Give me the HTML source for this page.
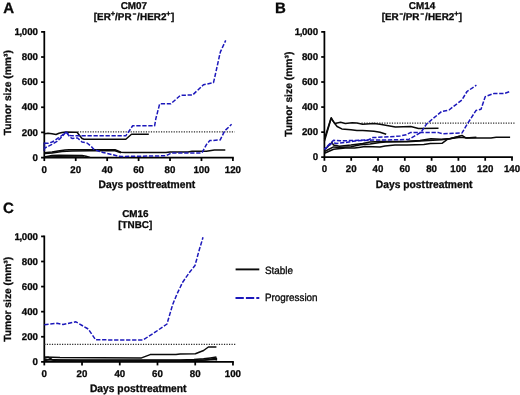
<!DOCTYPE html>
<html lang="en"><head><meta charset="utf-8"><title>Tumor size vs days posttreatment</title>
<style>
html,body{margin:0;padding:0;background:#fff}
svg{display:block;filter:blur(0.35px)}
text{font-family:"Liberation Sans",Arial,Helvetica,sans-serif;fill:#0a0a0a;text-rendering:geometricPrecision}
.pn,.tt,.tk,.at{font-weight:bold;stroke:#0a0a0a;stroke-width:0.3px}
.pn{font-size:15px}
.tt{font-size:9.9px}
.tk{font-size:9.7px}
.at{font-size:10.3px}
.lg{font-size:9.9px;stroke:#0a0a0a;stroke-width:0.32px}
.sp{font-size:7.4px;stroke-width:0.4px}
.sm{font-size:6px;stroke-width:0.55px}
</style></head><body>
<svg width="520" height="395" viewBox="0 0 520 395">
<rect width="520" height="395" fill="#fff"/>
<g id="panelA">
<text class="pn" x="3.2" y="12.7">A</text>
<text class="tt" text-anchor="middle" x="133.9" y="8.75">CM07</text>
<text class="tt" text-anchor="middle" x="134.0" y="20.2">[ER<tspan class="sp" dx="0.0" dy="-4.1">+</tspan><tspan dx="0.0" dy="4.1">/PR</tspan><tspan class="sm" dx="1.1" dy="-3.9">−</tspan><tspan dx="0.8500000000000001" dy="3.9">/</tspan><tspan dx="0.3">HER2</tspan><tspan class="sp" dx="-0.1" dy="-4.1">+</tspan><tspan dx="0.3" dy="4.1">]</tspan></text>
<g stroke="#000" stroke-width="1.75" fill="none">
<path d="M44.3 31.02 V161.05"/>
<path d="M41.099999999999994 157.5 H233.78"/>
<path d="M41.099999999999994 132.38 H44.3"/>
<path d="M41.099999999999994 107.26 H44.3"/>
<path d="M41.099999999999994 82.14 H44.3"/>
<path d="M41.099999999999994 57.02 H44.3"/>
<path d="M41.099999999999994 31.90 H44.3"/>
<path d="M75.73 157.5 V161.05"/>
<path d="M107.17 157.5 V161.05"/>
<path d="M138.60 157.5 V161.05"/>
<path d="M170.03 157.5 V161.05"/>
<path d="M201.47 157.5 V161.05"/>
<path d="M232.90 157.5 V161.05"/>
</g>
<g class="tk" text-anchor="end">
<text transform="translate(38.0 160.70) scale(1 1)">0</text>
<text transform="translate(38.0 135.58) scale(1 1)">200</text>
<text transform="translate(38.0 110.46) scale(1 1)">400</text>
<text transform="translate(38.0 85.34) scale(1 1)">600</text>
<text transform="translate(38.0 60.22) scale(1 1)">800</text>
<text transform="translate(38.0 35.10) scale(1 1)">1<tspan dx="-0.4">,</tspan><tspan dx="-0.4">000</tspan></text>
</g>
<g class="tk" text-anchor="middle">
<text transform="translate(44.3 172.80) scale(1 1)">0</text>
<text transform="translate(75.7 172.80) scale(1 1)">20</text>
<text transform="translate(107.2 172.80) scale(1 1)">40</text>
<text transform="translate(138.6 172.80) scale(1 1)">60</text>
<text transform="translate(170.0 172.80) scale(1 1)">80</text>
<text transform="translate(201.5 172.80) scale(1 1)">100</text>
<text transform="translate(232.9 172.80) scale(1 1)">120</text>
</g>
<text class="at" text-anchor="middle" transform="translate(146.8 187.80) scale(1 1.05)">Days post<tspan dx="0.5">treatment</tspan></text>
<text class="at" text-anchor="middle" transform="translate(11.4 92.7) rotate(-90)">Tumor size (mm³)</text>
<path d="M77.5 131.85 H234.7" stroke="#2b2b2b" stroke-width="1.2" stroke-dasharray="1.2 1.33" fill="none"/>
<polyline points="44.3,132.6 45.0,133.8 48.0,133.2 52.0,133.8 56.0,134.5 59.0,133.2 62.0,132.5 66.0,132.0 77.0,132.2 82.0,138.5 84.0,139.2 125.8,139.2 131.5,134.2 148.8,134.2" fill="none" stroke="#0a0a0a" stroke-width="1.5" stroke-linejoin="round"/>
<polyline points="44.3,152.7 52.0,152.1 58.0,151.0 65.0,149.9 69.0,149.7 115.0,149.7 121.0,152.2 125.0,152.6 166.0,152.5 170.0,151.9 188.0,151.9 192.0,151.2 206.4,151.3 214.4,150.0 225.3,150.0" fill="none" stroke="#0a0a0a" stroke-width="1.5" stroke-linejoin="round"/>
<polyline points="44.3,153.6 52.0,153.0 62.0,151.5 72.0,150.9 90.0,150.8 115.0,150.8 121.0,152.8" fill="none" stroke="#0a0a0a" stroke-width="1.5" stroke-linejoin="round"/>
<polyline points="44.3,156.9 52.0,155.4 59.0,155.2 82.0,155.4 86.0,156.3 90.0,157.4" fill="none" stroke="#0a0a0a" stroke-width="1.5" stroke-linejoin="round"/>
<polyline points="44.3,156.9 58.0,156.8 84.0,156.9" fill="none" stroke="#0a0a0a" stroke-width="1.5" stroke-linejoin="round"/>
<path d="M44.3 142.4 V151.2" stroke="#16136f" stroke-width="1.75" fill="none"/>
<path d="M44.3 143.3 L48.2 143.3 L48.6 143.2M50.2 142.6 L52.0 142.0 L54.1 140.8M55.5 139.9 L58.0 138.2 L59.0 137.5M60.4 136.5 L62.0 135.3 L63.8 133.8M65.1 132.7 L66.0 132.0 L68.4 134.1M69.6 135.2 L70.0 135.5 L73.8 135.7M75.5 135.8 L76.0 135.8 L79.8 135.8M81.5 135.8 L85.8 135.8M87.5 135.8 L91.8 135.8M93.5 135.8 L97.8 135.8M99.5 135.8 L103.8 135.8M105.5 135.8 L109.8 135.8M111.5 135.8 L115.8 135.8M117.5 135.8 L121.8 135.8M123.5 135.8 L125.8 135.8 L126.9 134.1M127.9 132.7 L130.4 129.2M131.3 127.8 L132.7 125.8 L134.6 125.8M136.3 125.8 L140.6 125.8M142.3 125.8 L146.6 125.8M148.3 125.8 L152.6 125.8M154.3 125.8 L154.6 125.8 L155.3 121.9M155.6 120.2 L155.8 118.9 L156.5 116.0M157.0 114.4 L158.0 110.2M158.5 108.6 L159.5 104.4M160.8 103.8 L165.1 103.8M166.8 103.8 L170.8 103.8 L171.0 103.6M172.3 102.5 L175.5 99.7M176.8 98.5 L180.0 95.7M181.6 95.3 L185.9 95.2M187.6 95.1 L191.9 95.0M193.3 94.4 L196.4 91.4M197.7 90.3 L200.8 87.3M202.0 86.1 L203.5 84.7 L205.7 84.2M207.4 83.9 L211.6 83.0M213.2 82.7 L213.5 82.6 L214.4 78.7M214.8 77.0 L215.7 72.8M216.1 71.2 L217.0 67.0M217.4 65.3 L218.3 61.1M218.7 59.4 L219.6 55.2M220.0 53.6 L220.4 51.9 L221.5 49.6M222.2 48.0 L224.0 44.1M224.7 42.6 L225.7 40.4" fill="none" stroke="#1c18bb" stroke-width="1.5" stroke-linejoin="round"/>
<path d="M44.3 148.2 L46.8 147.0M48.3 146.2 L48.6 146.1 L52.0 144.4 L52.2 144.3M53.6 143.4 L57.0 141.4 L57.3 141.1M58.5 140.0 L60.0 138.6 L61.6 137.0M62.8 135.8 L63.0 135.6 L65.6 132.5M66.7 132.8 L69.3 136.2M70.5 137.4 L72.0 138.5 L74.4 138.3M76.1 138.1 L77.5 138.0 L79.7 139.9M81.0 141.1 L82.0 142.0 L84.8 142.6M86.5 142.9 L87.0 143.0 L90.0 145.3M91.3 146.4 L94.0 149.5 L94.2 149.6M95.8 150.1 L99.9 151.5M101.5 152.0 L103.0 152.5 L105.6 153.1M107.3 153.5 L111.5 154.4M113.1 154.8 L114.0 155.0 L117.3 156.0M118.9 156.2 L122.0 156.4 L123.2 156.4M124.9 156.4 L129.2 156.3M130.9 156.3 L135.2 156.3M136.9 156.2 L141.2 156.2M142.9 156.2 L147.2 156.1M148.9 156.1 L150.0 156.1 L153.2 156.0M154.9 156.0 L159.2 155.9M160.9 155.8 L165.2 155.7M166.8 155.3 L170.6 153.3M172.2 152.9 L176.5 152.9M178.2 152.9 L182.5 152.9M184.2 152.9 L188.5 152.9M190.2 152.9 L194.5 152.9M196.2 152.9 L200.5 152.9M202.1 152.7 L204.1 148.9M204.9 147.4 L206.4 144.6 L207.1 143.7M208.2 142.4 L209.8 140.6 L211.7 140.5M213.4 140.4 L217.7 140.1M219.4 140.0 L220.2 139.9 L221.7 136.8M222.5 135.3 L224.4 131.4M225.5 130.1 L228.6 127.2M229.8 126.0 L231.6 124.3" fill="none" stroke="#1c18bb" stroke-width="1.5" stroke-linejoin="round"/>
</g>
<g id="panelB">
<text class="pn" x="274.9" y="12.7">B</text>
<text class="tt" text-anchor="middle" x="422" y="8.75">CM14</text>
<text class="tt" text-anchor="middle" x="421.9" y="20.2">[ER<tspan class="sm" dx="0.7" dy="-3.9">−</tspan><tspan dx="0.05" dy="3.9">/PR</tspan><tspan class="sm" dx="1.1" dy="-3.9">−</tspan><tspan dx="0.8500000000000001" dy="3.9">/</tspan><tspan dx="0.3">HER2</tspan><tspan class="sp" dx="-0.1" dy="-4.1">+</tspan><tspan dx="0.3" dy="4.1">]</tspan></text>
<g stroke="#000" stroke-width="1.75" fill="none">
<path d="M324.4 31.02 V160.75"/>
<path d="M321.2 157.2 H512.88"/>
<path d="M321.2 132.14 H324.4"/>
<path d="M321.2 107.08 H324.4"/>
<path d="M321.2 82.02 H324.4"/>
<path d="M321.2 56.96 H324.4"/>
<path d="M321.2 31.90 H324.4"/>
<path d="M351.20 157.2 V160.75"/>
<path d="M378.00 157.2 V160.75"/>
<path d="M404.80 157.2 V160.75"/>
<path d="M431.60 157.2 V160.75"/>
<path d="M458.40 157.2 V160.75"/>
<path d="M485.20 157.2 V160.75"/>
<path d="M512.00 157.2 V160.75"/>
</g>
<g class="tk" text-anchor="end">
<text transform="translate(318.1 160.40) scale(1 1)">0</text>
<text transform="translate(318.1 135.34) scale(1 1)">200</text>
<text transform="translate(318.1 110.28) scale(1 1)">400</text>
<text transform="translate(318.1 85.22) scale(1 1)">600</text>
<text transform="translate(318.1 60.16) scale(1 1)">800</text>
<text transform="translate(318.1 35.10) scale(1 1)">1<tspan dx="-0.4">,</tspan><tspan dx="-0.4">000</tspan></text>
</g>
<g class="tk" text-anchor="middle">
<text transform="translate(324.4 172.10) scale(1 1)">0</text>
<text transform="translate(351.2 172.10) scale(1 1)">20</text>
<text transform="translate(378.0 172.10) scale(1 1)">40</text>
<text transform="translate(404.8 172.10) scale(1 1)">60</text>
<text transform="translate(431.6 172.10) scale(1 1)">80</text>
<text transform="translate(458.4 172.10) scale(1 1)">100</text>
<text transform="translate(485.2 172.10) scale(1 1)">120</text>
<text transform="translate(512.0 172.10) scale(1 1)">140</text>
</g>
<text class="at" text-anchor="middle" transform="translate(424.1 187.90) scale(1 1.05)">Days post<tspan dx="0.5">treatment</tspan></text>
<text class="at" text-anchor="middle" transform="translate(291.7 94.2) rotate(-90)">Tumor size (mm³)</text>
<path d="M361.5 123.1 H514.8" stroke="#2b2b2b" stroke-width="1.2" stroke-dasharray="1.2 1.33" fill="none"/>
<polyline points="324.5,141.0 331.3,117.8 334.0,122.5 337.1,126.5 341.8,128.9 351.0,129.7 356.9,130.4 362.7,130.4 374.0,131.2 380.0,132.3 386.2,134.3" fill="none" stroke="#0a0a0a" stroke-width="1.5" stroke-linejoin="round"/>
<polyline points="324.5,138.7 331.0,118.2 333.0,121.0 334.8,123.4 340.6,122.2 345.3,123.4 352.2,122.7 356.9,123.0 362.7,124.2 374.0,123.6 380.0,124.2 395.4,126.9 410.8,126.6 418.5,128.5 438.5,128.2" fill="none" stroke="#0a0a0a" stroke-width="1.5" stroke-linejoin="round"/>
<polyline points="324.5,149.7 331.9,142.5 333.6,145.1 339.4,146.3 351.0,145.1 362.7,143.4 370.0,142.0 380.0,141.5 407.0,141.3 420.0,140.4 430.8,138.8 441.5,139.2 450.8,138.5 462.0,135.4 465.8,137.9 476.4,137.2" fill="none" stroke="#0a0a0a" stroke-width="1.5" stroke-linejoin="round"/>
<polyline points="324.5,151.5 333.6,146.9 339.4,147.5 351.0,146.7 360.4,144.8 370.0,144.0 380.0,142.5 386.0,141.9 407.0,141.7 420.0,140.9 441.5,139.8 460.7,137.2 467.6,137.9 491.0,137.9 496.2,137.2 510.1,137.2" fill="none" stroke="#0a0a0a" stroke-width="1.5" stroke-linejoin="round"/>
<polyline points="324.5,153.3 333.6,149.2 345.3,148.0 354.6,148.0 360.4,147.2 365.0,146.5 380.0,147.0 385.0,146.0 395.0,145.0 407.0,145.0 423.8,144.4 430.3,143.6 442.0,143.3 447.7,139.2 460.0,136.2" fill="none" stroke="#0a0a0a" stroke-width="1.5" stroke-linejoin="round"/>
<path d="M324.5 149.4 L327.8 146.7M329.1 145.6 L332.4 142.8M334.1 143.0 L337.0 143.4 L338.4 143.3M340.1 143.1 L344.3 142.6M346.0 142.4 L350.3 141.7M352.0 141.4 L355.0 140.9 L356.2 140.8M357.9 140.8 L362.2 140.6M363.9 140.5 L368.0 140.3 L368.2 140.3M369.9 140.2 L373.0 140.1 L374.2 140.1M375.9 140.1 L380.2 140.0M381.9 140.0 L386.2 139.9M387.9 139.9 L392.2 139.8M393.9 139.8 L398.2 139.7M399.9 139.7 L404.2 139.6M405.9 139.6 L407.0 139.6 L409.2 139.2 L410.0 138.7M411.5 137.9 L414.4 136.2 L415.2 135.7M416.7 134.8 L420.4 132.6M421.6 131.5 L424.0 127.9M424.9 126.5 L426.5 124.1 L427.6 123.2M428.9 122.1 L432.2 119.3M433.5 118.2 L436.8 115.5M438.1 114.4 L441.4 111.6M443.0 111.2 L447.2 110.4M448.9 110.0 L449.0 110.0 L452.3 107.4M453.6 106.4 L457.0 103.8M458.4 102.7 L461.8 100.1M462.7 98.7 L464.9 95.0M465.8 93.5 L467.0 91.5 L468.6 90.4M470.0 89.5 L473.6 87.1M475.0 86.1 L476.4 85.2" fill="none" stroke="#1c18bb" stroke-width="1.5" stroke-linejoin="round"/>
<path d="M324.5 149.2 L326.1 147.5M327.3 146.3 L329.0 144.5 L330.3 143.3M331.6 142.1 L333.6 140.3 L335.2 140.4M336.9 140.5 L340.2 140.8 L341.1 140.8M342.8 140.7 L347.1 140.7M348.8 140.6 L353.1 140.5M354.8 140.5 L355.0 140.5 L359.1 140.3M360.8 140.3 L365.1 140.1M366.8 140.0 L368.0 140.0 L370.8 138.6M372.3 137.8 L373.0 137.5 L376.5 137.4M378.2 137.3 L382.5 137.1M384.2 137.0 L385.0 137.0 L388.5 136.8M390.2 136.7 L394.5 136.4M396.2 136.3 L400.0 136.0 L400.5 135.9M402.2 135.6 L406.2 134.8 L406.4 134.7M407.9 133.9 L410.4 132.6 L411.8 132.6M413.5 132.6 L417.8 132.6M419.5 132.6 L423.8 132.6M425.5 132.6 L429.8 132.6M431.5 132.6 L435.8 132.6M437.5 132.6 L438.5 132.6 L441.7 133.5M443.4 133.8 L447.7 133.6M449.4 133.5 L453.7 133.3M455.4 133.2 L459.7 133.0M461.4 132.9 L462.0 132.9 L463.9 129.8M464.7 128.3 L466.9 124.6M467.9 123.2 L470.2 119.5M471.1 118.1 L473.4 114.5M474.3 113.1 L475.9 110.6 L477.2 110.3M478.9 109.8 L481.0 109.3 L481.7 107.3M482.2 105.7 L483.6 101.6M484.1 100.0 L485.3 96.6 L486.0 96.4M487.6 95.8 L491.6 94.3M493.2 93.8 L493.7 93.6 L497.5 93.6M499.2 93.6 L503.5 93.6M505.1 93.2 L509.2 91.8" fill="none" stroke="#1c18bb" stroke-width="1.5" stroke-linejoin="round"/>
</g>
<g id="panelC">
<text class="pn" x="3.0" y="213.1">C</text>
<text class="tt" text-anchor="middle" x="135.3" y="216.6">CM16</text>
<text class="tt" text-anchor="middle" x="135.2" y="227.7">[TNBC]</text>
<g stroke="#000" stroke-width="1.75" fill="none">
<path d="M44.3 235.53 V365.40000000000003"/>
<path d="M41.099999999999994 361.85 H233.82"/>
<path d="M41.099999999999994 336.76 H44.3"/>
<path d="M41.099999999999994 311.67 H44.3"/>
<path d="M41.099999999999994 286.58 H44.3"/>
<path d="M41.099999999999994 261.49 H44.3"/>
<path d="M41.099999999999994 236.40 H44.3"/>
<path d="M82.03 361.85 V365.40000000000003"/>
<path d="M119.76 361.85 V365.40000000000003"/>
<path d="M157.49 361.85 V365.40000000000003"/>
<path d="M195.22 361.85 V365.40000000000003"/>
<path d="M232.95 361.85 V365.40000000000003"/>
</g>
<g class="tk" text-anchor="end">
<text transform="translate(38.0 365.05) scale(1 1)">0</text>
<text transform="translate(38.0 339.96) scale(1 1)">200</text>
<text transform="translate(38.0 314.87) scale(1 1)">400</text>
<text transform="translate(38.0 289.78) scale(1 1)">600</text>
<text transform="translate(38.0 264.69) scale(1 1)">800</text>
<text transform="translate(38.0 239.60) scale(1 1)">1<tspan dx="-0.4">,</tspan><tspan dx="-0.4">000</tspan></text>
</g>
<g class="tk" text-anchor="middle">
<text transform="translate(44.3 377.10) scale(1 1)">0</text>
<text transform="translate(82.0 377.10) scale(1 1)">20</text>
<text transform="translate(119.8 377.10) scale(1 1)">40</text>
<text transform="translate(157.5 377.10) scale(1 1)">60</text>
<text transform="translate(195.2 377.10) scale(1 1)">80</text>
<text transform="translate(232.9 377.10) scale(1 1)">100</text>
</g>
<text class="at" text-anchor="middle" transform="translate(138.2 391.70) scale(1 1.05)">Days post<tspan dx="0.5">treatment</tspan></text>
<text class="at" text-anchor="middle" transform="translate(11.2 299.3) rotate(-90)">Tumor size (mm³)</text>
<path d="M44.3 344.4 H236.1" stroke="#2b2b2b" stroke-width="1.2" stroke-dasharray="1.2 1.33" fill="none"/>
<polyline points="44.3,357.0 60.0,357.6 141.5,357.9 150.2,354.6 176.0,354.6 180.0,353.9 195.4,353.8 203.6,350.5 208.4,347.0 216.4,347.0" fill="none" stroke="#0a0a0a" stroke-width="1.5" stroke-linejoin="round"/>
<polyline points="44.3,358.2 48.0,357.2 52.0,359.4 60.0,360.0 120.0,360.1 180.0,360.0 194.0,359.5 203.6,358.8 210.4,357.9 216.4,357.1" fill="none" stroke="#0a0a0a" stroke-width="1.5" stroke-linejoin="round"/>
<polyline points="44.3,360.8 50.0,359.2 56.0,360.7 120.0,360.9 190.0,360.7 205.0,360.0 216.4,358.2 216.4,360.6" fill="none" stroke="#0a0a0a" stroke-width="1.5" stroke-linejoin="round"/>
<polyline points="44.3,359.8 80.0,360.4 170.0,360.5 200.0,360.3 216.4,359.4" fill="none" stroke="#0a0a0a" stroke-width="1.5" stroke-linejoin="round"/>
<path d="M44.3 324.8 L48.6 324.3M50.3 324.1 L54.5 323.6M56.2 323.4 L57.0 323.3 L60.4 324.0M62.1 324.3 L63.0 324.5 L66.3 323.8M68.0 323.5 L72.2 322.6M73.9 322.2 L75.9 321.8 L77.8 322.9M79.3 323.8 L83.0 326.0M84.4 326.8 L88.2 329.0M89.2 330.3 L91.6 333.9M92.6 335.3 L95.0 338.8M96.1 339.8 L100.4 339.8M102.1 339.8 L106.4 339.8M108.1 339.9 L112.4 339.9M114.1 339.9 L118.4 339.9M120.1 339.9 L124.4 339.9M126.1 339.9 L130.4 339.9M132.1 340.0 L136.4 340.0M138.1 340.0 L142.4 340.0M144.0 339.4 L147.6 337.0M149.0 336.1 L152.6 333.8M154.0 332.9 L155.5 331.9 L157.6 330.5M159.0 329.5 L162.5 327.1M163.9 326.1 L167.0 324.0 L167.2 323.4M167.6 321.8 L168.8 317.7M169.3 316.0 L170.5 311.9M171.0 310.3 L172.2 306.1M172.7 304.5 L174.3 300.5M175.0 299.0 L176.6 295.0M177.3 293.4 L179.1 289.6M179.9 288.0 L181.7 284.1M182.4 282.6 L182.5 282.5 L184.9 279.0M185.8 277.6 L188.3 274.1M189.2 272.7 L191.9 269.4M193.0 268.0 L195.0 265.5 L195.3 264.5M195.7 262.8 L196.9 258.7M197.3 257.0 L198.4 252.9M198.9 251.3 L199.5 249.0 L200.1 247.1M200.6 245.5 L201.8 241.4M202.3 239.7 L203.0 237.3" fill="none" stroke="#1c18bb" stroke-width="1.5" stroke-linejoin="round"/>
</g>
<g id="legend">
<path d="M235.6 269.4 H259.3" stroke="#0a0a0a" stroke-width="1.9" fill="none"/>
<path d="M235.5 298 H259.3" stroke="#1c18bb" stroke-width="1.95" stroke-dasharray="8.3 2.1" fill="none"/>
<text class="lg" transform="translate(264.9 273.55) scale(1 1.07)">Stable</text>
<text class="lg" transform="translate(264.9 300.95) scale(1 1.07)">Progression</text>
</g>
</svg>
</body></html>
